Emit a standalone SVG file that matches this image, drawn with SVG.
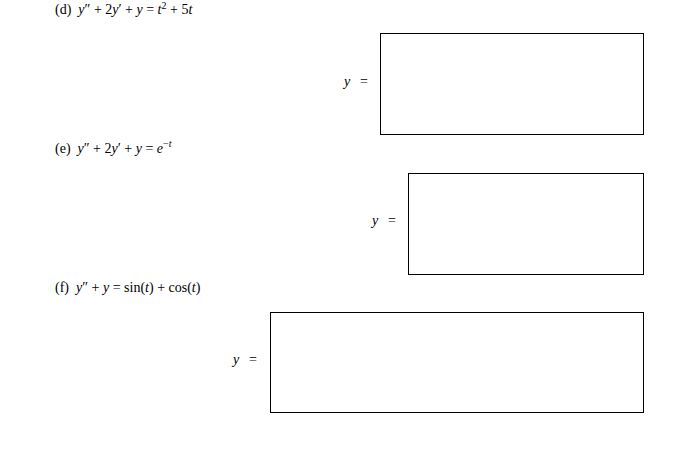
<svg xmlns="http://www.w3.org/2000/svg" width="691" height="459" viewBox="0 0 691 459">
<style>
text{font-family:"Liberation Serif","DejaVu Serif",serif;font-size:14px;fill:#000}
.i{font-style:italic}
.b{fill:#fff;stroke:#000;stroke-width:1}
</style>
<rect width="691" height="459" fill="#fff"/>
<g id="d">
<text x="55" y="14">(d)&#160;&#160;<tspan class="i">y</tspan>″&#160;+&#160;2<tspan class="i">y</tspan>′&#160;+&#160;<tspan class="i">y</tspan>&#160;=&#160;<tspan class="i">t</tspan><tspan font-size="10" dy="-5">2</tspan><tspan dy="5">&#160;+&#160;5</tspan><tspan class="i">t</tspan></text>
<text x="344" y="86" class="i">y</text><text x="360" y="86">=</text>
<rect class="b" x="380.5" y="33.5" width="263" height="101"/>
</g>
<g id="e">
<text x="55" y="153">(e)&#160;&#160;<tspan class="i">y</tspan>″&#160;+&#160;2<tspan class="i">y</tspan>′&#160;+&#160;<tspan class="i">y</tspan>&#160;=&#160;<tspan class="i">e</tspan><tspan font-size="10" dy="-6">−<tspan class="i">t</tspan></tspan></text>
<text x="372" y="225" class="i">y</text><text x="388" y="225">=</text>
<rect class="b" x="408.5" y="173.5" width="235" height="101"/>
</g>
<g id="f">
<text x="55" y="292">(f)&#160;&#160;<tspan class="i">y</tspan>″&#160;+&#160;<tspan class="i">y</tspan>&#160;=&#160;sin(<tspan class="i">t</tspan>)&#160;+&#160;cos(<tspan class="i">t</tspan>)</text>
<text x="233" y="364" class="i">y</text><text x="249" y="364">=</text>
<rect class="b" x="270.5" y="312.5" width="373" height="100"/>
</g>
<g id="connectors"/>
</svg>
